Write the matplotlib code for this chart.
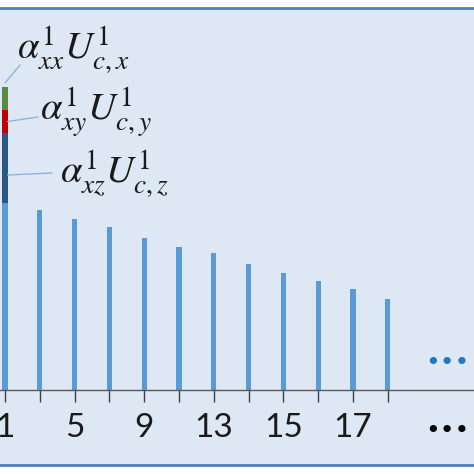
import matplotlib
matplotlib.use("Agg")
import matplotlib.pyplot as plt
from matplotlib.patches import Rectangle
from matplotlib.transforms import IdentityTransform

# bar positions and labels (every other tick is labelled)
positions = list(range(1, 13))
tick_labels = ["1", "", "5", "", "9", "", "13", "", "15", "", "17", ""]

# heights of the light-blue bars (arbitrary units)
base_values = [1.87, 1.80, 1.71, 1.63, 1.52, 1.43, 1.37, 1.26, 1.17, 1.09, 1.01, 0.91]

# components stacked on the first bar
stack_z = 0.70
stack_y = 0.23
stack_x = 0.23

light_blue = "#5b9bd5"
dark_blue = "#2a5783"
red = "#c00000"
green = "#5b8a3e"
bg = "#dde8f4"
leader = "#8fb4dc"

plt.rcParams["mathtext.fontset"] = "stix"

fig = plt.figure(figsize=(4.74, 4.74), dpi=100)
fig.patch.set_facecolor("white")

# framed panel behind the chart
fig.patches.append(Rectangle((-0.02, 9 / 474), 1.04, (466 - 9) / 474,
                             transform=fig.transFigure, facecolor=bg,
                             edgecolor="#4f81bd", lw=2, zorder=-5))

ax = fig.add_axes([0, 84 / 474, 1, 382 / 474])
ax.set_facecolor("none")
ax.set_zorder(1)
w = 0.15
ax.bar(positions, base_values, width=w, color=light_blue, zorder=2)
b0 = base_values[0]
ax.bar(positions[0], stack_z, bottom=b0, width=w, color=dark_blue, zorder=2)
ax.bar(positions[0], stack_y, bottom=b0 + stack_z, width=w, color=red, zorder=2)
ax.bar(positions[0], stack_x, bottom=b0 + stack_z + stack_y, width=w, color=green, zorder=2)

ax.set_xlim(0.856, 14.48)
ax.set_ylim(0, 3.82)
ax.set_xticks(positions)
ax.set_xticklabels(tick_labels, fontsize=24, family="Lato", color="#1a1a1a")
ax.tick_params(axis="x", length=8.5, width=1, color="#404040", pad=8)
ax.set_yticks([])
for s in ["top", "right", "left"]:
    ax.spines[s].set_visible(False)
ax.spines["bottom"].set_color("#595959")
ax.spines["bottom"].set_linewidth(1)

# leader lines and labels for the stacked components
top = b0 + stack_z + stack_y + stack_x
xe = positions[0] + w / 2
lp = dict(arrowstyle="-", color=leader, lw=1, shrinkA=0, shrinkB=0)
ax.annotate("", xy=(positions[0], top + 0.04), xytext=(20, 409),
            textcoords="figure pixels", arrowprops=lp)
ax.annotate("", xy=(xe, b0 + stack_z + stack_y / 2), xytext=(38, 357),
            textcoords="figure pixels", arrowprops=lp)
ax.annotate("", xy=(xe, b0 + stack_z * 0.4), xytext=(52, 301),
            textcoords="figure pixels", arrowprops=lp)

tf = IdentityTransform()
fig.text(17, 424, r"$\alpha^1_{xx}U^1_{c,x}$", transform=tf, fontsize=28,
         ha="left", va="center", color="#1a1a1a")
fig.text(40, 362, r"$\alpha^1_{xy}U^1_{c,y}$", transform=tf, fontsize=28,
         ha="left", va="center", color="#1a1a1a")
fig.text(60, 300, r"$\alpha^1_{xz}U^1_{c,z}$", transform=tf, fontsize=28,
         ha="left", va="center", color="#1a1a1a")

# continuation marks
fig.text(447, 111, "\u2022\u2022\u2022", transform=tf, fontsize=18,
         ha="center", va="center", color="#1f7ac4")
fig.text(447, 43, "\u2022\u2022\u2022", transform=tf, fontsize=18,
         ha="center", va="center", color="black")

fig.savefig("out.png", dpi=100)
